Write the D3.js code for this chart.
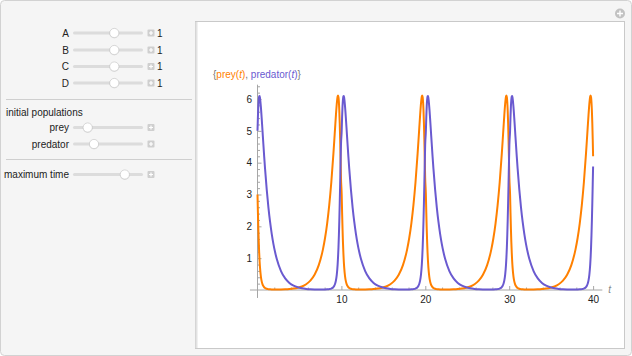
<!DOCTYPE html>
<html>
<head>
<meta charset="utf-8">
<script src="https://cdn.jsdelivr.net/npm/d3@7/dist/d3.min.js"></script>
<style>
  html, body { margin: 0; padding: 0; background: #ffffff; }
  svg { display: block; font-family: "Liberation Sans", Arial, sans-serif; }
</style>
</head>
<body>
<svg id="chart" width="632" height="356"></svg>
<script>
// ---------------- data ----------------
const time = [
  0, 0.05, 0.1, 0.15, 0.2, 0.25, 0.3, 0.4, 0.5, 0.6, 0.7, 0.8, 0.9, 1.1, 1.3, 1.5, 1.7, 1.9, 2.1, 2.3,
  2.8, 3.3, 3.8, 4.3, 4.8, 5.3, 5.8, 6.3, 6.8, 7.3, 7.8, 8.05, 8.3, 8.55, 8.8, 9.05, 9.15, 9.25, 9.35, 9.45,
  9.55, 9.6, 9.65, 9.7, 9.75, 9.8, 9.85, 9.9, 9.95,
  10.035, 10.085, 10.135, 10.185, 10.235, 10.285, 10.335, 10.435, 10.535, 10.635, 10.735, 10.835, 10.935, 11.135, 11.335, 11.535, 11.735, 11.935, 12.135, 12.335,
  12.835, 13.335, 13.835, 14.335, 14.835, 15.335, 15.835, 16.335, 16.835, 17.335, 17.835, 18.085, 18.335, 18.585, 18.835, 19.085, 19.185, 19.285, 19.385, 19.485,
  19.585, 19.635, 19.685, 19.735, 19.785, 19.835, 19.885, 19.935, 19.985,
  20.07, 20.12, 20.17, 20.22, 20.27, 20.32, 20.37, 20.47, 20.57, 20.67, 20.77, 20.87, 20.97, 21.17, 21.37, 21.57, 21.77, 21.97, 22.17, 22.37,
  22.87, 23.37, 23.87, 24.37, 24.87, 25.37, 25.87, 26.37, 26.87, 27.37, 27.87, 28.12, 28.37, 28.62, 28.87, 29.12, 29.22, 29.32, 29.42, 29.52,
  29.62, 29.67, 29.72, 29.77, 29.82, 29.87, 29.92, 29.97, 30.02,
  30.105, 30.155, 30.205, 30.255, 30.305, 30.355, 30.405, 30.505, 30.605, 30.705, 30.805, 30.905, 31.005, 31.205, 31.405, 31.605, 31.805, 32.005, 32.205, 32.405,
  32.905, 33.405, 33.905, 34.405, 34.905, 35.405, 35.905, 36.405, 36.905, 37.405, 37.905, 38.155, 38.405, 38.655, 38.905, 39.155, 39.255, 39.355, 39.455, 39.555,
  39.655, 39.705, 39.755, 39.805, 39.855, 39.905, 39.955, 40
];
const prey = [
  3, 2.425, 1.922, 1.504, 1.168, 0.905, 0.702, 0.428, 0.270, 0.178, 0.122, 0.087, 0.064, 0.039, 0.027, 0.021, 0.017, 0.015, 0.014, 0.014,
  0.016, 0.021, 0.030, 0.045, 0.070, 0.111, 0.180, 0.292, 0.477, 0.780, 1.277, 1.633, 2.088, 2.665, 3.393, 4.290, 4.689, 5.100, 5.501, 5.854,
  6.083, 6.111, 6.059, 5.906, 5.637, 5.246, 4.741, 4.152, 3.524,
  3, 2.425, 1.922, 1.504, 1.168, 0.905, 0.702, 0.428, 0.270, 0.178, 0.122, 0.087, 0.064, 0.039, 0.027, 0.021, 0.017, 0.015, 0.014, 0.014,
  0.016, 0.021, 0.030, 0.045, 0.070, 0.111, 0.180, 0.292, 0.477, 0.780, 1.277, 1.633, 2.088, 2.665, 3.393, 4.290, 4.689, 5.100, 5.501, 5.854,
  6.083, 6.111, 6.059, 5.906, 5.637, 5.246, 4.741, 4.152, 3.524,
  3, 2.425, 1.922, 1.504, 1.168, 0.905, 0.702, 0.428, 0.270, 0.178, 0.122, 0.087, 0.064, 0.039, 0.027, 0.021, 0.017, 0.015, 0.014, 0.014,
  0.016, 0.021, 0.030, 0.045, 0.070, 0.111, 0.180, 0.292, 0.477, 0.780, 1.277, 1.633, 2.088, 2.665, 3.393, 4.290, 4.689, 5.100, 5.501, 5.854,
  6.083, 6.111, 6.059, 5.906, 5.637, 5.246, 4.741, 4.152, 3.524,
  3, 2.425, 1.922, 1.504, 1.168, 0.905, 0.702, 0.428, 0.270, 0.178, 0.122, 0.087, 0.064, 0.039, 0.027, 0.021, 0.017, 0.015, 0.014, 0.014,
  0.016, 0.021, 0.030, 0.045, 0.070, 0.111, 0.180, 0.292, 0.477, 0.780, 1.277, 1.633, 2.088, 2.665, 3.393, 4.290, 4.689, 5.100, 5.501, 5.854,
  6.083, 6.111, 6.059, 5.906, 5.637, 5.246, 4.741, 4.2
];
const predator = [
  5, 5.447, 5.775, 5.983, 6.082, 6.091, 6.029, 5.761, 5.392, 4.986, 4.577, 4.184, 3.814, 3.153, 2.598, 2.137, 1.756, 1.442, 1.184, 0.972,
  0.594, 0.363, 0.223, 0.138, 0.086, 0.054, 0.035, 0.024, 0.018, 0.015, 0.015, 0.016, 0.020, 0.028, 0.046, 0.094, 0.133, 0.197, 0.303, 0.484,
  0.798, 1.031, 1.331, 1.710, 2.174, 2.719, 3.325, 3.955, 4.562,
  5, 5.447, 5.775, 5.983, 6.082, 6.091, 6.029, 5.761, 5.392, 4.986, 4.577, 4.184, 3.814, 3.153, 2.598, 2.137, 1.756, 1.442, 1.184, 0.972,
  0.594, 0.363, 0.223, 0.138, 0.086, 0.054, 0.035, 0.024, 0.018, 0.015, 0.015, 0.016, 0.020, 0.028, 0.046, 0.094, 0.133, 0.197, 0.303, 0.484,
  0.798, 1.031, 1.331, 1.710, 2.174, 2.719, 3.325, 3.955, 4.562,
  5, 5.447, 5.775, 5.983, 6.082, 6.091, 6.029, 5.761, 5.392, 4.986, 4.577, 4.184, 3.814, 3.153, 2.598, 2.137, 1.756, 1.442, 1.184, 0.972,
  0.594, 0.363, 0.223, 0.138, 0.086, 0.054, 0.035, 0.024, 0.018, 0.015, 0.015, 0.016, 0.020, 0.028, 0.046, 0.094, 0.133, 0.197, 0.303, 0.484,
  0.798, 1.031, 1.331, 1.710, 2.174, 2.719, 3.325, 3.955, 4.562,
  5, 5.447, 5.775, 5.983, 6.082, 6.091, 6.029, 5.761, 5.392, 4.986, 4.577, 4.184, 3.814, 3.153, 2.598, 2.137, 1.756, 1.442, 1.184, 0.972,
  0.594, 0.363, 0.223, 0.138, 0.086, 0.054, 0.035, 0.024, 0.018, 0.015, 0.015, 0.016, 0.020, 0.028, 0.046, 0.094, 0.133, 0.197, 0.303, 0.484,
  0.798, 1.031, 1.331, 1.710, 2.174, 2.719, 3.325, 3.88
];
const xMajorTicks = [10, 20, 30, 40];
const xMinorTicks = [2, 4, 6, 8, 12, 14, 16, 18, 22, 24, 26, 28, 32, 34, 36, 38];
const yMajorTicks = [1, 2, 3, 4, 5, 6];
const yMinorTicks = [0.2, 0.4, 0.6, 0.8, 1.2, 1.4, 1.6, 1.8, 2.2, 2.4, 2.6, 2.8, 3.2, 3.4, 3.6, 3.8,
                     4.2, 4.4, 4.6, 4.8, 5.2, 5.4, 5.6, 5.8, 6.2, 6.4];
const paramLabels = ["A", "B", "C", "D"];
const paramValues = [1, 1, 1, 1];
const paramSlider = [0.59, 0.59, 0.59, 0.59];
const initLabels = ["prey", "predator"];
const initSlider = [0.21, 0.30];
const maxTimeLabel = "maximum time";
const maxTimeSlider = 0.74;
const seriesNames = ["prey", "predator"];
const seriesColors = ["#ff8000", "#6a5ad0"];

// ---------------- drawing ----------------
const svg = d3.select("#chart");

// outer frame
svg.append("rect").attr("x", 0.5).attr("y", 0.5).attr("width", 631).attr("height", 355)
  .attr("rx", 4).attr("fill", "#f5f5f5").attr("stroke", "#d2d2d2");

// controls
const ctl = svg.append("g").attr("font-size", 10).attr("fill", "#222");
const trackX0 = 73, trackX1 = 143;
function slider(y, frac, label, value) {
  ctl.append("text").attr("x", 69).attr("y", y + 3.5).attr("text-anchor", "end").text(label);
  ctl.append("rect").attr("x", trackX0).attr("y", y - 1.5).attr("width", trackX1 - trackX0).attr("height", 3)
    .attr("rx", 1.5).attr("fill", "#dcdcdc");
  const cx = trackX0 + frac * (trackX1 - trackX0);
  ctl.append("circle").attr("cx", cx).attr("cy", y + 0.5).attr("r", 5).attr("fill", "#000").attr("opacity", 0.08);
  ctl.append("circle").attr("cx", cx).attr("cy", y).attr("r", 4.6).attr("fill", "#fff")
    .attr("stroke", "#c4c4c4").attr("stroke-width", 0.6);
  ctl.append("rect").attr("x", 147.5).attr("y", y - 3.5).attr("width", 7).attr("height", 7).attr("rx", 1)
    .attr("fill", "#cfcfcf");
  ctl.append("path").attr("d", `M${149},${y}H${153}M${151},${y - 2}V${y + 2}`)
    .attr("stroke", "#fff").attr("stroke-width", 1.2);
  if (value !== null) {
    ctl.append("text").attr("x", 157).attr("y", y + 3.5).text(value);
  }
}
const paramRows = [33, 50, 66.5, 83];
paramLabels.forEach((l, i) => slider(paramRows[i], paramSlider[i], l, paramValues[i]));
ctl.append("line").attr("x1", 6).attr("x2", 192).attr("y1", 99.5).attr("y2", 99.5).attr("stroke", "#cfcfcf");
ctl.append("text").attr("x", 6).attr("y", 116).text("initial populations");
const initRows = [127.5, 144];
initLabels.forEach((l, i) => slider(initRows[i], initSlider[i], l, null));
ctl.append("line").attr("x1", 6).attr("x2", 192).attr("y1", 159.5).attr("y2", 159.5).attr("stroke", "#cfcfcf");
slider(174.5, maxTimeSlider, maxTimeLabel, null);

// plot panel
svg.append("rect").attr("x", 195.5).attr("y", 21.5).attr("width", 429).attr("height", 327)
  .attr("fill", "#fff").attr("stroke", "#c9c9c9");
svg.append("line").attr("x1", 196.5).attr("x2", 196.5).attr("y1", 22).attr("y2", 348)
  .attr("stroke", "#e2e2e2").attr("stroke-width", 2);
// plus icon top-right
svg.append("circle").attr("cx", 620).attr("cy", 13.5).attr("r", 5).attr("fill", "#c2c2c2");
svg.append("path").attr("d", "M617,13.5H623M620,10.5V16.5").attr("stroke", "#fff").attr("stroke-width", 1.4);

// scales
const x = d3.scaleLinear().domain([0, 40]).range([257.5, 593.1]);
const y = d3.scaleLinear().domain([0, 6]).range([290, 99]);

const axisColor = "#a6a6a6";
const g = svg.append("g");

// axis lines
g.append("line").attr("x1", x(-0.9)).attr("x2", x(41.1)).attr("y1", y(0)).attr("y2", y(0))
  .attr("stroke", axisColor);
g.append("line").attr("x1", x(0)).attr("x2", x(0)).attr("y1", y(-0.25)).attr("y2", y(6.45))
  .attr("stroke", axisColor);

// x ticks
const xMaj = g.append("g").attr("transform", `translate(0,${y(0)})`)
  .call(d3.axisBottom(x).tickValues(xMajorTicks).tickSize(-4).tickPadding(5.5).tickFormat(d3.format("d")));
const xMin = g.append("g").attr("transform", `translate(0,${y(0)})`)
  .call(d3.axisBottom(x).tickValues(xMinorTicks).tickSize(-2.5).tickFormat(""));
// y ticks
const yMaj = g.append("g").attr("transform", `translate(${x(0)},0)`)
  .call(d3.axisLeft(y).tickValues(yMajorTicks).tickSize(-4).tickPadding(5).tickFormat(d3.format("d")));
const yMin = g.append("g").attr("transform", `translate(${x(0)},0)`)
  .call(d3.axisLeft(y).tickValues(yMinorTicks).tickSize(-2.5).tickFormat(""));
[xMaj, xMin, yMaj, yMin].forEach(a => {
  a.select(".domain").remove();
  a.selectAll(".tick line").attr("stroke", axisColor);
  a.selectAll(".tick text").attr("fill", "#222").attr("font-size", 10)
    .attr("font-family", "\"Liberation Sans\", Arial, sans-serif");
});
yMaj.selectAll(".tick text").attr("dx", "-0.5");

// axis label t
g.append("text").attr("x", x(41.1) + 6).attr("y", y(0) + 3).attr("font-size", 10)
  .attr("font-style", "italic").attr("fill", "#888").text("t");

// title label
const title = g.append("text").attr("x", 213).attr("y", 77.5).attr("font-size", 10).attr("fill", "#777");
title.append("tspan").text("{");
title.append("tspan").attr("fill", seriesColors[0]).text(seriesNames[0] + "(");
title.append("tspan").attr("fill", seriesColors[0]).attr("font-style", "italic").text("t");
title.append("tspan").attr("fill", seriesColors[0]).text(")");
title.append("tspan").text(", ");
title.append("tspan").attr("fill", seriesColors[1]).text(seriesNames[1] + "(");
title.append("tspan").attr("fill", seriesColors[1]).attr("font-style", "italic").text("t");
title.append("tspan").attr("fill", seriesColors[1]).text(")");
title.append("tspan").text("}");

// series
const series = [prey, predator];
const line = d3.line().x(d => x(d[0])).y(d => y(d[1])).curve(d3.curveMonotoneX);
series.forEach((vals, i) => {
  g.append("path")
    .datum(time.map((t, k) => [t, vals[k]]))
    .attr("d", line)
    .attr("fill", "none")
    .attr("stroke", seriesColors[i])
    .attr("stroke-width", 2)
    .attr("stroke-linejoin", "round")
    .attr("stroke-linecap", "butt");
});
</script>
</body>
</html>
